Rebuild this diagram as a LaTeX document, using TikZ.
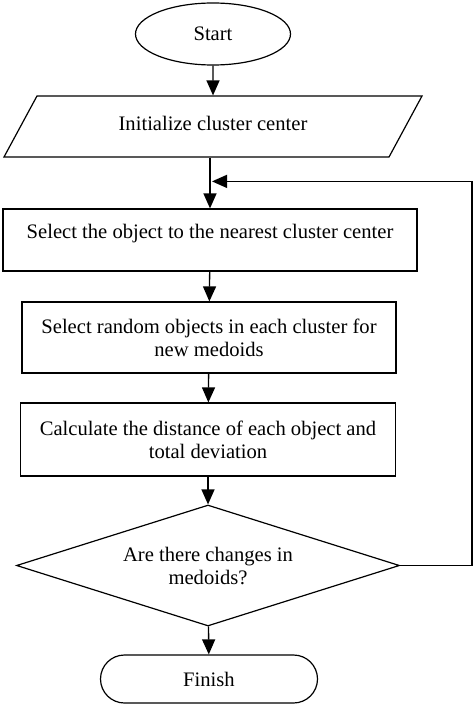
\documentclass[tikz,border=0pt]{standalone}
\usepackage{fontspec}
\setmainfont{Liberation Serif}
\usetikzlibrary{arrows.meta}
\usetikzlibrary{shapes.geometric}
\usetikzlibrary{shapes.misc}
\begin{document}
\begin{tikzpicture}[scale=1,every node/.style={scale=1,font=\fontsize{20.6pt}{23pt}\selectfont},
  block/.style={draw, line width=1.2pt, align=center, inner sep=2pt},
  flow/.style={line width=1.3pt, -{Triangle[length=15pt,width=13pt]}}]
\useasboundingbox (0pt,0pt) rectangle (474pt,-706pt);
\node[block, ellipse, minimum width=155pt, minimum height=62pt] (start) at (213pt,-34pt) {Start};
\node[block, trapezium, trapezium left angle=61.6, trapezium right angle=118.4, trapezium stretches body=true, text height=14pt, text depth=5pt, inner ysep=21pt, minimum width=418pt] (init) at ([shift=({0pt,-92.5pt})]start) {Initialize cluster center};
\node[block, rectangle, minimum width=414pt, minimum height=62pt, text depth=18pt] (sel) at ([shift=({-3pt,-113.5pt})]init) {Select the object to the nearest cluster center};
\node[block, rectangle, minimum width=374pt, minimum height=71pt] (rand) at ([shift=({-1pt,-97.5pt})]sel) {Select random objects in each cluster for\\new medoids};
\node[block, rectangle, minimum width=375pt, minimum height=73pt] (dist) at ([shift=({-1pt,-102pt})]rand) {Calculate the distance of each object and\\total deviation};
\node[block, diamond, aspect=3.17, inner sep=1pt, minimum width=383pt, minimum height=121pt] (chg) at ([shift=({0pt,-126pt})]dist) {Are there changes in\\medoids?};
\node[block, rounded rectangle, minimum width=221pt, minimum height=48pt] (finish) at ([shift=({1pt,-113.5pt})]chg) {Finish};
\coordinate (back) at ([shift=({2pt,27pt})]sel.north);
\draw[flow] (start) -- (init);
\draw[flow] (init.south -| sel) -- (sel);
\draw[flow] (sel) -- (rand);
\draw[flow] (rand) -- (dist);
\draw[flow] (dist) -- (chg);
\draw[flow] (chg) -- (finish);
\draw[flow] (chg.east) -- ([xshift=72pt]chg.east) |- (back);
\end{tikzpicture}
\end{document}
